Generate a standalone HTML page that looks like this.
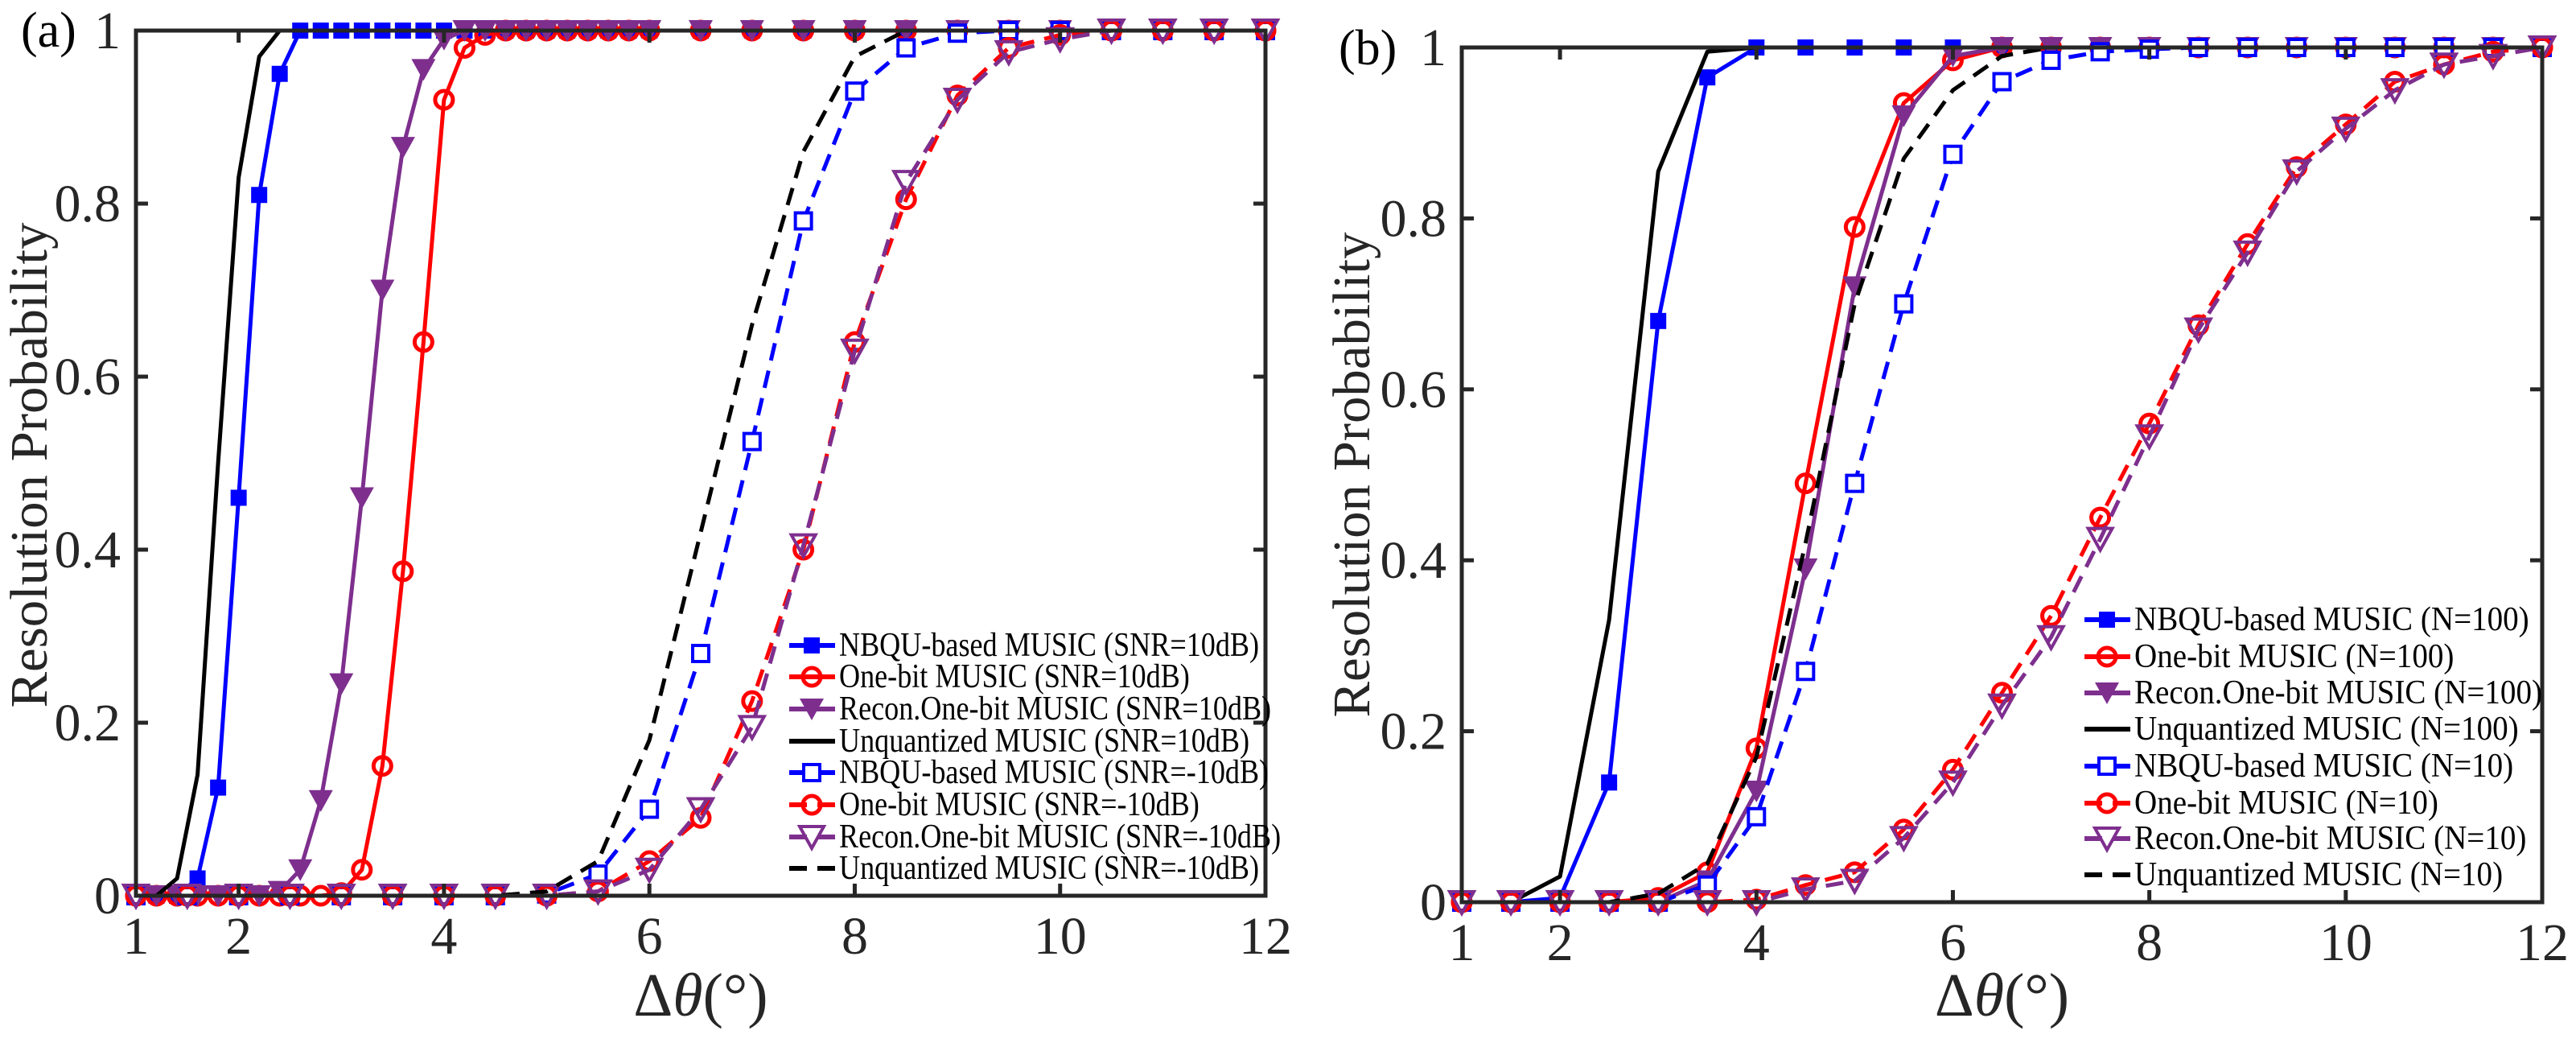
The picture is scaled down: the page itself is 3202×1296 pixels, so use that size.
<!DOCTYPE html>
<html><head><meta charset="utf-8"><style>
html,body{margin:0;padding:0;background:#fff;}
svg{display:block;}
svg text{font-family:"Liberation Serif","DejaVu Serif","Times New Roman",Times,serif;}
</style></head><body>
<svg id="fig" width="3202" height="1296" viewBox="0 0 3202 1296" xmlns="http://www.w3.org/2000/svg"></svg>
<script>
// ---------- Panel (a) data ----------
const xHiA = [1,1.2,1.4,1.6,1.8,2,2.2,2.4,2.6,2.8,3,3.2,3.4,3.6,3.8,4,4.2,4.4,4.6,4.8,5,5.2,5.4,5.6,5.8,6,6.5,7,7.5,8,8.5,9,9.5,10,10.5,11,11.5,12];
const xLoA = [1,1.5,2,2.5,3,3.5,4,4.5,5,5.5,6,6.5,7,7.5,8,8.5,9,9.5,10,10.5,11,11.5,12];
const aNbquHi  = [0,0,0,0.02,0.125,0.46,0.81,0.95,1,1,1,1,1,1,1,1,1,1,1,1,1,1,1,1,1,1,1,1,1,1,1,1,1,1,1,1,1,1];
const aOneHi   = [0,0,0,0,0,0,0,0,0,0,0.003,0.03,0.15,0.375,0.64,0.92,0.98,0.995,1,1,1,1,1,1,1,1,1,1,1,1,1,1,1,1,1,1,1,1];
const aReconHi = [0,0,0,0,0,0,0,0.005,0.03,0.11,0.245,0.46,0.70,0.865,0.955,0.99,1,1,1,1,1,1,1,1,1,1,1,1,1,1,1,1,1,1,1,1,1,1];
const aUnqHi   = [0,0,0.02,0.14,0.5,0.83,0.97,1,1,1,1,1,1,1,1,1,1,1,1,1,1,1,1,1,1,1,1,1,1,1,1,1,1,1,1,1,1,1];
const aNbquLo  = [0,0,0,0,0,0,0,0,0.002,0.025,0.10,0.28,0.525,0.78,0.93,0.98,0.997,1,1,1,1,1,1];
const aOneLo   = [0,0,0,0,0,0,0,0,0,0.005,0.04,0.09,0.225,0.40,0.64,0.805,0.925,0.98,0.995,1,1,1,1];
const aReconLo = [0,0,0,0,0,0,0,0,0,0.005,0.03,0.10,0.195,0.405,0.63,0.825,0.92,0.975,0.99,1,1,1,1];
const aUnqLo   = [0,0,0,0,0,0,0,0,0.005,0.04,0.18,0.42,0.66,0.86,0.97,1,1,1,1,1,1,1,1];
// ---------- Panel (b) data ----------
const xB = [1,1.5,2,2.5,3,3.5,4,4.5,5,5.5,6,6.5,7,7.5,8,8.5,9,9.5,10,10.5,11,11.5,12];
const bNbqu100  = [0,0,0.005,0.14,0.68,0.965,1,1,1,1,1,1,1,1,1,1,1,1,1,1,1,1,1];
const bOne100   = [0,0,0,0,0.005,0.035,0.18,0.49,0.79,0.935,0.985,1,1,1,1,1,1,1,1,1,1,1,1];
const bRecon100 = [0,0,0,0,0,0.025,0.13,0.39,0.72,0.92,0.99,1,1,1,1,1,1,1,1,1,1,1,1];
const bUnq100   = [0,0,0.03,0.33,0.855,0.995,1,1,1,1,1,1,1,1,1,1,1,1,1,1,1,1,1];
const bNbqu10   = [0,0,0,0,0,0.02,0.10,0.27,0.49,0.70,0.875,0.96,0.985,0.995,0.998,1,1,1,1,1,1,1,1];
const bOne10    = [0,0,0,0,0,0,0.003,0.02,0.035,0.085,0.155,0.245,0.335,0.45,0.56,0.675,0.77,0.86,0.91,0.96,0.98,0.995,1];
const bRecon10  = [0,0,0,0,0,0,0,0.015,0.025,0.075,0.14,0.23,0.31,0.425,0.545,0.67,0.76,0.855,0.905,0.95,0.98,0.99,1];
const bUnq10    = [0,0,0,0,0.01,0.045,0.17,0.42,0.70,0.87,0.95,0.99,1,1,1,1,1,1,1,1,1,1,1];
const xTicks = [1,2,4,6,8,10,12];
const xTickMarks = [2,4,6,8,10];
const yTicks = [0,0.2,0.4,0.6,0.8,1];
const yTickLabels = ["0","0.2","0.4","0.6","0.8","1"];
const legendA = ["NBQU-based MUSIC (SNR=10dB)","One-bit MUSIC (SNR=10dB)","Recon.One-bit MUSIC (SNR=10dB)","Unquantized MUSIC (SNR=10dB)","NBQU-based MUSIC (SNR=-10dB)","One-bit MUSIC (SNR=-10dB)","Recon.One-bit MUSIC (SNR=-10dB)","Unquantized MUSIC (SNR=-10dB)"];
const legendB = ["NBQU-based MUSIC (N=100)","One-bit MUSIC (N=100)","Recon.One-bit MUSIC (N=100)","Unquantized MUSIC (N=100)","NBQU-based MUSIC (N=10)","One-bit MUSIC (N=10)","Recon.One-bit MUSIC (N=10)","Unquantized MUSIC (N=10)"];

const NS="http://www.w3.org/2000/svg";
const svg=document.getElementById('fig');
function mk(tag,attrs,parent){const e=document.createElementNS(NS,tag);for(const k in attrs)e.setAttribute(k,attrs[k]);(parent||svg).appendChild(e);return e;}
const BLUE="#0000FF",RED="#FF0000",PUR="#7E2F8E",BLK="#000000";

function marker(g,type,cx,cy,col,filled){
  let e;
  const fill=filled?col:"#fff";
  if(type==='s'){e=mk('rect',{x:cx-10,y:cy-10,width:20,height:20,fill:fill,stroke:col,'stroke-width':filled?0:4},g);}
  else if(type==='o'){e=mk('circle',{cx:cx,cy:cy,r:11,fill:'none',stroke:col,'stroke-width':5},g);}
  else if(type==='v'){e=mk('polygon',{points:`${cx-15},${cy-13} ${cx+15},${cy-13} ${cx},${cy+14}`,fill:filled?col:'none',stroke:col,'stroke-width':filled?0:4},g);}
  if(e){
  }
}

function panel(P){
  const g=mk('g',{});
  
  
  const sx=v=>P.L+(v-1)/11*(P.R-P.L);
  const sy=v=>P.B-v*(P.B-P.T);
  P.series.forEach(s=>{
    const sg=mk('g',{},g);
    
    
    const pts=s.x.map((xv,i)=>sx(xv).toFixed(1)+','+sy(s.y[i]).toFixed(1)).join(' ');
    const pl=mk('polyline',{points:pts,fill:'none',stroke:s.c,'stroke-width':5,'stroke-linejoin':'round'},sg);
    if(s.dash)pl.setAttribute('stroke-dasharray','22 13');
    
    
    if(s.m)s.x.forEach((xv,i)=>marker(sg,s.m,sx(xv),sy(s.y[i]),s.c,s.f));
  });
  const fr=mk('rect',{x:P.L,y:P.T,width:P.R-P.L,height:P.B-P.T,fill:'none',stroke:'#262626','stroke-width':5},g);
  
  
  xTickMarks.forEach(v=>{
    mk('line',{x1:sx(v),x2:sx(v),y1:P.B,y2:P.B-15,stroke:'#262626','stroke-width':5},g);
    mk('line',{x1:sx(v),x2:sx(v),y1:P.T,y2:P.T+15,stroke:'#262626','stroke-width':5},g);
  });
  yTicks.forEach(v=>{
    mk('line',{x1:P.L,x2:P.L+15,y1:sy(v),y2:sy(v),stroke:'#262626','stroke-width':5},g);
    mk('line',{x1:P.R,x2:P.R-15,y1:sy(v),y2:sy(v),stroke:'#262626','stroke-width':5},g);
  });
  xTicks.forEach(v=>{
    const t=mk('text',{x:sx(v),y:P.B+72,'text-anchor':'middle','font-size':66,fill:'#262626'},g);
    t.textContent=String(v);
    
    
  });
  yTicks.forEach((v,i)=>{
    const t=mk('text',{x:P.L-19,y:sy(v)+22,'text-anchor':'end','font-size':66,fill:'#262626'},g);
    t.textContent=yTickLabels[i];
    
    
  });
  const yt=mk('text',{x:0,y:0,'text-anchor':'middle','font-size':66,fill:'#262626',textLength:603,lengthAdjust:'spacingAndGlyphs',transform:`translate(${P.ytx},${P.yty}) rotate(-90)`},g);
  yt.textContent='Resolution Probability';
  
  
  const xt=mk('text',{x:(P.L+P.R)/2,y:1262,'text-anchor':'middle','font-size':76,fill:'#262626'},g);
  xt.innerHTML='Δ<tspan font-style="italic">θ</tspan>(°)';
  
  
  const pt=mk('text',{x:P.plx,y:P.ply,'font-size':62,fill:'#000'},g);
  pt.textContent=P.label;
  
  
  const lg=mk('g',{},g);
  
  
  P.series.forEach((s,i)=>{
    const eg=mk('g',{},lg);
    
    
    const y=P.legY[i];
    const ln=mk('line',{x1:P.legX,x2:P.legX+57,y1:y,y2:y,stroke:s.c,'stroke-width':6},eg);
    if(s.dash)ln.setAttribute('stroke-dasharray','22 13');
    if(s.m)marker(eg,s.m,P.legX+28,y,s.c,s.f);
    const t=mk('text',{x:P.legX+62,y:y+13,'font-size':42,fill:'#000'},eg);
    t.textContent=P.legend[i];
    const w=t.getComputedTextLength();
    if(w>0){t.setAttribute('textLength',(w*P.legScale).toFixed(1));t.setAttribute('lengthAdjust','spacingAndGlyphs');}
  });
}

panel({name:'panel-a',L:169,R:1573,T:38,B:1113,ytx:58,yty:578,plx:26,ply:58,label:'(a)',legScale:0.86,
  legX:981,legY:[802,841,881,921,960,1000,1040,1079],legend:legendA,
  series:[
    {name:'nbqu-snr10',x:xHiA,y:aNbquHi,c:BLUE,m:'s',f:true},
    {name:'onebit-snr10',x:xHiA,y:aOneHi,c:RED,m:'o',f:true},
    {name:'recon-snr10',x:xHiA,y:aReconHi,c:PUR,m:'v',f:true},
    {name:'unquantized-snr10',x:xHiA,y:aUnqHi,c:BLK},
    {name:'nbqu-snr-10',x:xLoA,y:aNbquLo,c:BLUE,m:'s',f:false,dash:true},
    {name:'onebit-snr-10',x:xLoA,y:aOneLo,c:RED,m:'o',f:false,dash:true},
    {name:'recon-snr-10',x:xLoA,y:aReconLo,c:PUR,m:'v',f:false,dash:true},
    {name:'unquantized-snr-10',x:xLoA,y:aUnqLo,c:BLK,dash:true}
  ]});
panel({name:'panel-b',L:1817,R:3160,T:59,B:1121,ytx:1702,yty:590,plx:1664,ply:80,label:'(b)',legScale:0.93,
  legX:2591,legY:[770,816,861,906,952,998,1042,1087],legend:legendB,
  series:[
    {name:'nbqu-n100',x:xB,y:bNbqu100,c:BLUE,m:'s',f:true},
    {name:'onebit-n100',x:xB,y:bOne100,c:RED,m:'o',f:true},
    {name:'recon-n100',x:xB,y:bRecon100,c:PUR,m:'v',f:true},
    {name:'unquantized-n100',x:xB,y:bUnq100,c:BLK},
    {name:'nbqu-n10',x:xB,y:bNbqu10,c:BLUE,m:'s',f:false,dash:true},
    {name:'onebit-n10',x:xB,y:bOne10,c:RED,m:'o',f:false,dash:true},
    {name:'recon-n10',x:xB,y:bRecon10,c:PUR,m:'v',f:false,dash:true},
    {name:'unquantized-n10',x:xB,y:bUnq10,c:BLK,dash:true}
  ]});
</script>
</body></html>
